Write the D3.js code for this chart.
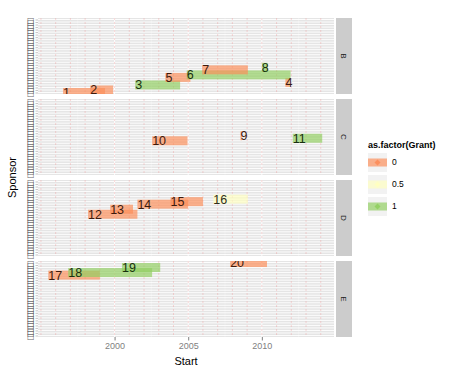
<!DOCTYPE html>
<html>
<head>
<meta charset="utf-8">
<script src="https://cdn.jsdelivr.net/npm/d3@7"></script>
<style>
  body { margin: 0; background: #fff; }
  text { font-family: "Liberation Sans", Arial, sans-serif; }
</style>
</head>
<body>
<script>
// project data
const projects = ["1","2","3","4","5","6","7","8","9","10","11","12","13","14","15","16","17","18","19","20"];
const facets = ["B","B","B","B","B","B","B","B","C","C","C","D","D","D","D","D","E","E","E","E"];
const starts = [1996.5,1998.35,2001.4,2011.6,2003.45,2004.9,2005.95,2010,2008.55,2002.55,2012.1,1998.2,1999.7,2001.55,2003.8,2006.7,1995.5,1996.85,2000.5,2007.85];
const ends = [1999.35,1999.9,2004.45,2011.85,2005.15,2011.95,2009.05,2010.4,2008.65,2004.95,2014.1,2001.55,2001.25,2005,2006,2009.05,1999,2002.55,2003.1,2010.35];
const grants = [0,0,1,0,0,1,0,1,0,0,1,0,0,0,0,0.5,0,1,1,0];
// row of each project's sponsor (0 = bottom row)
const sponsorRow = [0,1,3,4,6,7,9,10,15,13,14,16,18,20,21,22,24,25,27,29];
// sponsor names come out as empty boxes in the original
const sponsors = d3.range(30).map(function(){ return "\u25A1"; });
const facetNames = ["B","C","D","E"];
const grantLevels = [0, 0.5, 1];
const grantLabels = ["0","0.5","1"];
const xTicks = [2000, 2005, 2010];

const data = projects.map(function(p, i){
    return {id: p, facet: facets[i], start: starts[i], end: ends[i], grant: grants[i], row: sponsorRow[i]};
});

const w = 474, h = 379;
const left = 38, right = 334;
const panelTop = 18, panelH = 76, gap = 5;

const svg = d3.select("body").append("svg")
    .attr("width", w)
    .attr("height", h);

const x = d3.scaleLinear()
    .domain([1994.8, 2014.9])
    .range([left, right]);

const color = d3.scaleOrdinal()
    .domain(grantLevels)
    .range(["#FC8D59", "#FFFFBF", "#91CF60"]);
const textColor = d3.scaleOrdinal()
    .domain(grantLevels)
    .range(["#3d1a0d", "#2e2e1a", "#17300f"]);

facetNames.forEach(function(f, k){
    const top = panelTop + k * (panelH + gap);
    const y = d3.scalePoint()
        .domain(d3.range(sponsors.length))
        .range([top + panelH, top])
        .padding(0.6);

    const g = svg.append("g");
    g.append("clipPath").attr("id", "clip" + f)
        .append("rect")
        .attr("x", left).attr("y", top)
        .attr("width", right - left).attr("height", panelH);

    //panel background
    g.append("rect")
        .attr("x", left).attr("y", top)
        .attr("width", right - left).attr("height", panelH)
        .style("fill", "#e5e5e5");

    //minor vertical grid
    g.selectAll(".minor")
        .data([1997.5, 2002.5, 2007.5, 2012.5])
        .enter().append("line")
        .attr("x1", x).attr("x2", x)
        .attr("y1", top).attr("y2", top + panelH)
        .style("stroke", "#f2f2f2")
        .style("stroke-width", 0.5);

    //horizontal grid, one per sponsor
    g.selectAll(".hgrid")
        .data(y.domain())
        .enter().append("line")
        .attr("x1", left).attr("x2", right)
        .attr("y1", function(d){ return y(d); })
        .attr("y2", function(d){ return y(d); })
        .style("stroke", "#ffffff")
        .style("stroke-width", 0.9);

    g.selectAll(".vgrid")
        .data(xTicks)
        .enter().append("line")
        .attr("x1", x).attr("x2", x)
        .attr("y1", top).attr("y2", top + panelH)
        .style("stroke", "#ffffff")
        .style("stroke-width", 0.9);

    //dashed year lines
    g.selectAll(".years")
        .data(d3.range(1995, 2015))
        .enter().append("line")
        .attr("x1", x).attr("x2", x)
        .attr("y1", top).attr("y2", top + panelH)
        .style("stroke", "#f08080")
        .style("stroke-opacity", 0.5)
        .style("stroke-width", 0.6)
        .style("stroke-dasharray", "2,2");

    const rows = data.filter(function(d){ return d.facet === f; });
    const marks = g.append("g").attr("clip-path", "url(#clip" + f + ")");

    marks.selectAll(".bar")
        .data(rows)
        .enter().append("rect")
        .attr("x", function(d){ return x(d.start); })
        .attr("width", function(d){ return x(d.end) - x(d.start); })
        .attr("y", function(d){ return y(d.row) - 4.5; })
        .attr("height", 9)
        .style("fill", function(d){ return color(d.grant); })
        .style("fill-opacity", 0.68);

    marks.selectAll(".lab")
        .data(rows)
        .enter().append("text")
        .attr("x", function(d){ return x(d.start); })
        .attr("y", function(d){ return y(d.row); })
        .attr("dy", "0.36em")
        .style("font-size", "12.5px")
        .style("fill", function(d){ return textColor(d.grant); })
        .text(function(d){ return d.id; });

    //y axis with the boxed sponsor names
    const yAxis = d3.axisLeft(y)
        .tickSize(2.5)
        .tickPadding(1)
        .tickFormat(function(i){ return sponsors[i]; });
    const ya = g.append("g")
        .attr("transform", "translate(" + left + ",0)")
        .call(yAxis);
    ya.select(".domain").remove();
    ya.selectAll("line").style("stroke", "#8a8a8a").style("stroke-width", 0.5);
    ya.selectAll("text").style("font-size", "8px").style("fill", "#6a6a6a")
        .style("font-family", "DejaVu Sans");

    //strip on the right
    g.append("rect")
        .attr("x", 336).attr("y", top)
        .attr("width", 16).attr("height", panelH)
        .style("fill", "#cccccc");
    g.append("text")
        .attr("transform", "translate(344," + (top + panelH / 2) + ") rotate(90)")
        .attr("text-anchor", "middle")
        .attr("dy", "0.35em")
        .style("font-size", "8px")
        .style("fill", "#1a1a1a")
        .text(f);

    if (k === facetNames.length - 1) {
        const xAxis = d3.axisBottom(x)
            .tickValues(xTicks)
            .tickSize(3.5)
            .tickPadding(2)
            .tickFormat(d3.format("d"));
        const xa = svg.append("g")
            .attr("transform", "translate(0," + (top + panelH) + ")")
            .call(xAxis);
        xa.select(".domain").remove();
        xa.selectAll("line").style("stroke", "#7f7f7f");
        xa.selectAll("text").style("font-size", "9px").style("fill", "#7f7f7f")
            .style("font-family", "Liberation Sans");
    }
});

//axis titles
svg.append("text")
    .attr("x", (left + right) / 2)
    .attr("y", 365)
    .attr("text-anchor", "middle")
    .style("font-size", "11px")
    .text("Start");

svg.append("text")
    .attr("transform", "translate(16," + (panelTop + (4 * panelH + 3 * gap) / 2) + ") rotate(-90)")
    .attr("text-anchor", "middle")
    .style("font-size", "11px")
    .text("Sponsor");

//legend
const legend = svg.append("g").attr("transform", "translate(368,0)");
legend.append("text")
    .attr("x", 0).attr("y", 148)
    .style("font-size", "9px")
    .style("font-weight", "bold")
    .text("as.factor(Grant)");

const keys = legend.selectAll(".key")
    .data(grantLevels)
    .enter().append("g")
    .attr("transform", function(d, i){ return "translate(0," + (153 + i * 22) + ")"; });

keys.append("rect")
    .attr("width", 19).attr("height", 19)
    .style("fill", "#f2f2f2");
keys.append("rect")
    .attr("x", 0).attr("y", 5.5)
    .attr("width", 19).attr("height", 8)
    .style("fill", function(d){ return color(d); })
    .style("fill-opacity", 0.68);
keys.append("path")
    .attr("d", "M9.5,6.5 L12.5,9.5 L9.5,12.5 L6.5,9.5 Z")
    .style("fill", function(d){ return color(d); })
    .style("fill-opacity", 0.9);
keys.append("text")
    .attr("x", 24).attr("y", 9.5)
    .attr("dy", "0.35em")
    .style("font-size", "8.5px")
    .text(function(d, i){ return grantLabels[i]; });
</script>
</body>
</html>
